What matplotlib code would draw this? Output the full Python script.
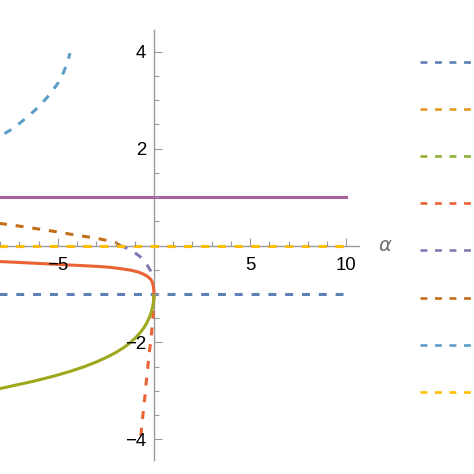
import matplotlib
matplotlib.use("Agg")
import matplotlib.pyplot as plt
from matplotlib.lines import Line2D

# ---------------- data ----------------
const_alpha = [-8.1, 10.0]
blue_y = [-1.0, -1.0]
gold_y = [0.0, 0.0]
yellow_y = [0.0, 0.0]
magenta_y = [1.0, 1.0]

red_alpha = [-8.1, -7.0, -6.0, -5.0, -4.0, -3.0, -2.3, -1.7, -1.2, -0.8, -0.5, -0.3, -0.15, -0.07, -0.03, -0.01, 0.0]
red_y = [-0.33, -0.35, -0.37, -0.39, -0.41, -0.43, -0.45, -0.48, -0.51, -0.55, -0.60, -0.65, -0.71, -0.78, -0.86, -0.93, -1.0]

olive_alpha = [0.0, -0.01, -0.04, -0.09, -0.16, -0.26, -0.38, -0.53, -0.72, -0.95, -1.22, -1.55, -1.95, -2.42, -2.98, -3.62, -4.38, -5.25, -6.25, -7.4, -8.1]
olive_y = [-1.0, -1.1, -1.2, -1.3, -1.4, -1.5, -1.6, -1.7, -1.8, -1.9, -2.0, -2.1, -2.2, -2.3, -2.4, -2.5, -2.6, -2.7, -2.8, -2.9, -2.96]

reddash_alpha = [0.0, -0.03, -0.08, -0.15, -0.24, -0.32, -0.40, -0.47, -0.55, -0.63, -0.70]
reddash_y = [-1.0, -1.3, -1.6, -1.9, -2.2, -2.5, -2.8, -3.1, -3.4, -3.7, -4.0]

brown_alpha = [-8.1, -7.0, -6.0, -5.0, -4.0, -3.0, -2.4, -2.0, -1.77]
brown_y = [0.46, 0.40, 0.34, 0.28, 0.21, 0.15, 0.10, 0.06, 0.0]

purple_alpha = [-1.77, -1.5, -1.25, -1.0, -0.75, -0.5, -0.3, -0.18, -0.1, -0.04]
purple_y = [0.0, -0.04, -0.09, -0.15, -0.22, -0.32, -0.44, -0.52, -0.6, -0.64]

lblue_alpha = [-7.78, -7.4, -7.0, -6.6, -6.2, -5.8, -5.4, -5.0, -4.7, -4.5, -4.37]
lblue_y = [2.31, 2.40, 2.52, 2.65, 2.79, 2.95, 3.13, 3.35, 3.58, 3.78, 3.97]

xticks_major = [-5, 5, 10]
xticks_minor = [-8, -7, -6, -4, -3, -2, -1, 1, 2, 3, 4, 6, 7, 8, 9]
yticks_major = [-4, -2, 2, 4]
yticks_minor = [-3.5, -3, -2.5, -1.5, -1, -0.5, 0.5, 1, 1.5, 2.5, 3, 3.5]
legend_colors = ["#5E81B5", "#E19C24", "#8FB032", "#EB6235", "#8778B3", "#C56E1A", "#5D9EC7", "#FFBF00"]

# ---------------- style ----------------
C_BLUE, C_GOLD, C_OLIVE, C_RED, C_PURPLE, C_BROWN, C_LBLUE, C_YELLOW = legend_colors
C_OLIVE_LINE = "#9DA81C"
C_MAGENTA = "#A5609D"
AX_GRAY = "#9a9a9a"
LW = 2.2
DASH = (0, (2.6, 2.9))

plt.rcParams['font.family'] = ['Liberation Sans', 'DejaVu Sans']

fig = plt.figure(figsize=(4.74, 4.74), dpi=100)
ax = fig.add_axes([0, 0, 1, 1])
ax.set_xlim(-8.013, 16.649)
ax.set_ylim(-4.716, 5.067)
ax.patch.set_alpha(0)

for s in ["top", "right"]:
    ax.spines[s].set_visible(False)
ax.spines["left"].set_position(("data", 0))
ax.spines["bottom"].set_position(("data", 0))
ax.spines["left"].set_bounds(-4.43, 4.45)
ax.spines["bottom"].set_bounds(-8.1, 10.67)
for s in ["left", "bottom"]:
    ax.spines[s].set_color(AX_GRAY)
    ax.spines[s].set_linewidth(1.0)
    ax.spines[s].set_zorder(0.5)

ax.set_xticks(xticks_major)
ax.set_xticks(xticks_minor, minor=True)
ax.set_yticks(yticks_major)
ax.set_yticks(yticks_minor, minor=True)
ax.set_xticklabels([str(v).replace("-", "\u2212") for v in xticks_major])
ax.set_yticklabels([str(v).replace("-", "\u2212") for v in yticks_major])
ax.tick_params(which="both", direction="in", color=AX_GRAY, width=0.8, labelsize=13.4, labelcolor="black")
ax.tick_params(which="major", length=5.8)
ax.tick_params(which="minor", length=3.6)
ax.tick_params(axis="x", pad=8.6)
ax.tick_params(axis="y", pad=5.5)
ax.xaxis.set_zorder(5)
ax.yaxis.set_zorder(5)

# ---------------- curves ----------------
ax.plot(const_alpha, blue_y, color=C_BLUE, lw=LW, ls=DASH, zorder=3)
ax.plot(const_alpha, gold_y, color=C_GOLD, lw=LW, ls=DASH, zorder=3)
ax.plot(const_alpha, magenta_y, color=C_MAGENTA, lw=LW, zorder=3)
ax.plot(brown_alpha, brown_y, color=C_BROWN, lw=LW, ls=DASH, zorder=3)
ax.plot(purple_alpha, purple_y, color=C_PURPLE, lw=LW, ls=DASH, zorder=3)
ax.plot(lblue_alpha, lblue_y, color=C_LBLUE, lw=LW, ls=DASH, zorder=3)
ax.plot(reddash_alpha, reddash_y, color=C_RED, lw=LW, ls=DASH, zorder=3)
ax.plot(red_alpha, red_y, color=C_RED, lw=LW, zorder=4, solid_capstyle="butt")
ax.plot(olive_alpha, olive_y, color=C_OLIVE_LINE, lw=LW, zorder=4, solid_capstyle="butt")
ax.plot(const_alpha, yellow_y, color=C_YELLOW, lw=LW, ls=DASH, zorder=4)

ax.text(12.02, 0, "\u03b1", color="#707070", fontsize=14, style="italic",
        family=["DejaVu Sans"], ha="center", va="center")

# ---------------- legend ----------------
handles = [Line2D([], [], color=c, lw=1.9, ls=DASH) for c in legend_colors]
fs = 10
fig.legend(handles, [""] * len(handles), loc="upper left",
           bbox_to_anchor=(420 / 474, 1 - 48.3 / 474), bbox_transform=fig.transFigure,
           frameon=False, fontsize=fs, handlelength=5, handleheight=4.845,
           labelspacing=0, borderpad=0, borderaxespad=0, handletextpad=0.2)

fig.savefig("out.png", dpi=100)
